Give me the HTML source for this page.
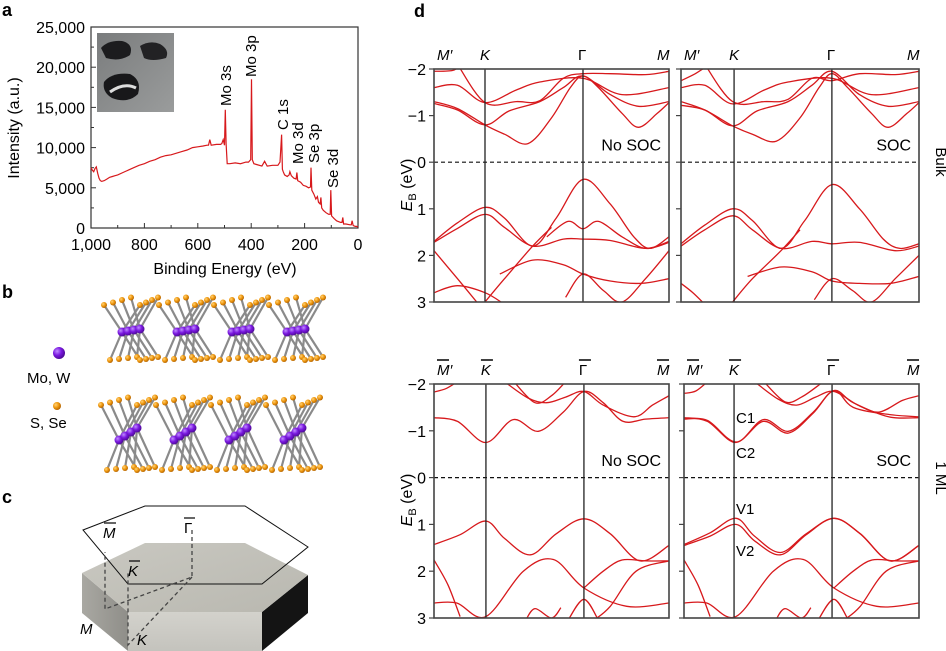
<!DOCTYPE html>
<html><head><meta charset="utf-8"><style>
html,body{margin:0;padding:0;background:#fff;width:946px;height:651px;overflow:hidden}
svg{display:block;font-family:"Liberation Sans",Arial,sans-serif}
</style></head><body>
<svg id="fig" width="946" height="651" viewBox="0 0 946 651" xmlns="http://www.w3.org/2000/svg">
<defs>
<linearGradient id="topg" x1="0" y1="0" x2="1" y2="1"><stop offset="0" stop-color="#c9c8c1"/><stop offset="1" stop-color="#b9b8b0"/></linearGradient>
<linearGradient id="frontg" x1="0" y1="0" x2="0" y2="1"><stop offset="0" stop-color="#d3d2cc"/><stop offset="1" stop-color="#c4c3bd"/></linearGradient>
<linearGradient id="leftg" x1="0" y1="0" x2="1" y2="0"><stop offset="0" stop-color="#a9a8a2"/><stop offset="1" stop-color="#8f8e89"/></linearGradient>
<linearGradient id="photo" x1="0" y1="0" x2="1" y2="1"><stop offset="0" stop-color="#7a7c7d"/><stop offset="1" stop-color="#9a9c9c"/></linearGradient>
<radialGradient id="mo" cx="0.35" cy="0.35" r="0.7"><stop offset="0" stop-color="#c08cff"/><stop offset="0.5" stop-color="#7a18e0"/><stop offset="1" stop-color="#4a0a90"/></radialGradient>
<radialGradient id="se" cx="0.35" cy="0.35" r="0.7"><stop offset="0" stop-color="#ffd27a"/><stop offset="0.5" stop-color="#f09a10"/><stop offset="1" stop-color="#b06000"/></radialGradient>
</defs>

<!-- Panel a -->
<g>
<text x="2" y="16" font-size="18" font-weight="bold">a</text>
<g id="xpsAxes"></g>
<rect x="97" y="33" width="77" height="79" fill="url(#photo)"/>
<path d="M101 48 Q108 40 122 41 Q134 44 130 55 Q120 62 106 58 Z" fill="#1c1c1e"/>
<path d="M140 46 Q150 40 160 44 Q170 50 166 58 Q152 62 144 58 Z" fill="#222224"/>
<path d="M104 82 Q112 72 130 74 Q142 80 138 94 Q128 104 112 98 Q102 92 104 82 Z" fill="#18181a"/>
<path d="M110 92 Q124 82 136 88" stroke="#ddd" stroke-width="3" fill="none"/>
<path id="xpsLine" fill="none" stroke="#d7191c" stroke-width="1.2"/>
<g font-size="15">
<text transform="translate(231,106) rotate(-90)">Mo 3s</text>
<text transform="translate(256,77) rotate(-90)">Mo 3p</text>
<text transform="translate(288,130) rotate(-90)">C 1s</text>
<text transform="translate(303,164) rotate(-90)">Mo 3d</text>
<text transform="translate(319,163) rotate(-90)">Se 3p</text>
<text transform="translate(338,188) rotate(-90)">Se 3d</text>
</g>
<text x="225" y="274" font-size="16" text-anchor="middle">Binding Energy (eV)</text>
<text transform="translate(19,128) rotate(-90)" font-size="16" text-anchor="middle">Intensity (a.u.)</text>
</g>

<!-- Panel b -->
<g>
<text x="2" y="298" font-size="18" font-weight="bold">b</text>
<g id="crystal"></g>
<circle cx="59" cy="353" r="6" fill="url(#mo)"/>
<text x="27" y="383" font-size="15">Mo, W</text>
<circle cx="57" cy="406" r="4" fill="url(#se)"/>
<text x="30" y="428" font-size="15">S, Se</text>
</g>

<!-- Panel c -->
<g>
<text x="2" y="503" font-size="18" font-weight="bold">c</text>
<polygon points="82,573 128,612 128,651 82,613" fill="url(#leftg)"/>
<polygon points="128,612 262,612 262,651 128,651" fill="url(#frontg)"/>
<polygon points="262,612 308,575 308,613 262,651" fill="#141414"/>
<polygon points="82,573 145,543 245,543 308,575 262,612 128,612" fill="url(#topg)"/>
<polygon points="83,530 145,506 245,506 308,547 262,584 128,584" fill="none" stroke="#111" stroke-width="1"/>
<g stroke="#444" stroke-width="1.3" stroke-dasharray="4,3" fill="none">
<path d="M192 530 L192 577 L105 609 L105 552"/>
<path d="M192 577 L128 645 L128 572"/>
</g>
<g font-size="15" font-style="italic">
<text x="103" y="538">M</text><line x1="104" y1="523" x2="116" y2="523" stroke="#000" stroke-width="1.2"/>
<text x="128" y="576">K</text><line x1="129" y1="561" x2="140" y2="561" stroke="#000" stroke-width="1.2"/>
<text x="184" y="533" font-style="normal">Γ</text><line x1="184" y1="518" x2="195" y2="518" stroke="#000" stroke-width="1.2"/>
<text x="80" y="634">M</text>
<text x="137" y="645">K</text>
</g>
</g>

<!-- Panel d -->
<g>
<text x="414" y="17" font-size="18" font-weight="bold">d</text>
<g id="bands"></g>
<text transform="translate(936,162) rotate(90)" font-size="15" text-anchor="middle">Bulk</text>
<text transform="translate(936,478) rotate(90)" font-size="15" text-anchor="middle">1 ML</text>
<text transform="translate(412,185) rotate(-90)" font-size="16" text-anchor="middle"><tspan font-style="italic">E</tspan><tspan font-size="11" dy="4">B</tspan><tspan dy="-4"> (eV)</tspan></text>
<text transform="translate(412,500) rotate(-90)" font-size="16" text-anchor="middle"><tspan font-style="italic">E</tspan><tspan font-size="11" dy="4">B</tspan><tspan dy="-4"> (eV)</tspan></text>
</g>
</svg>
<script>
// ---------- Panel a data ----------
const xpsEnergy = [1000,995,990,985,980,975,970,965,960,950,940,930,920,910,900,880,860,840,820,800,780,760,740,720,700,680,660,640,620,600,580,565,560,555,550,530,515,510,505,500,497,494,490,480,460,440,420,410,402,399,396,390,380,360,350,340,320,300,292,286,283,280,275,265,258,255,250,240,232,229,226,215,205,195,185,178,176,173,165,158,152,148,142,139,136,130,120,110,104,102,99,90,80,65,60,57,54,45,30,25,22,18,10,5,0];
const xpsIntensity = [7500,7200,7000,7400,7600,6800,6200,5900,5800,5900,6100,6300,6400,6500,6600,6900,7200,7500,7800,8000,8300,8500,8800,9000,9100,9300,9500,9700,10000,10100,10200,10300,10300,11000,10300,10400,10400,10500,11000,10300,14700,10500,8000,8000,8100,8000,8200,8200,8500,18500,8500,8000,7900,7700,8300,7700,7800,7800,8200,11600,7300,7000,6600,6400,6600,7000,6500,6200,6100,6900,5900,5700,5300,5200,5000,5100,7500,4700,4200,3600,3900,3200,3000,3800,2500,2200,1900,1700,1700,4700,1500,1200,900,700,700,1300,500,500,400,400,900,300,200,200,100];
const xpsXTicks = [1000,800,600,400,200,0];
const xpsXTickLabels = ["1,000","800","600","400","200","0"];
const xpsYTicks = [0,5000,10000,15000,20000,25000];
const xpsYTickLabels = ["0","5,000","10,000","15,000","20,000","25,000"];

// ---------- Panel d data (k: 0=M', 1=M; E in eV) ----------
const bulkNoSocBands = [
 [[0,-1.3],[0.1,-1.15],[0.217,-0.8],[0.3,-0.6],[0.4,-0.4],[0.5,-0.95],[0.58,-1.6],[0.634,-1.85],[0.7,-1.6],[0.8,-1.05],[0.87,-0.75],[0.95,-1.05],[1,-1.28]],
 [[0,-1.26],[0.1,-1.12],[0.217,-0.8],[0.32,-1.1],[0.45,-1.3],[0.55,-1.6],[0.634,-1.85],[0.75,-1.45],[0.87,-1.2],[1,-1.3]],
 [[0,-1.6],[0.1,-1.65],[0.217,-1.28],[0.35,-1.55],[0.45,-1.72],[0.634,-1.8],[0.8,-1.45],[1,-1.6]],
 [[0.1,-2.1],[0.217,-1.28],[0.35,-1.3],[0.45,-1.32],[0.55,-1.8],[0.634,-1.9],[0.75,-1.9],[0.9,-1.88],[1,-1.95]],
 [[0,-1.95],[0.08,-1.97],[0.12,-2.1]],
 [[0,1.7],[0.1,1.3],[0.217,0.97],[0.3,1.2],[0.42,1.8],[0.52,1.2],[0.634,0.37],[0.75,0.9],[0.85,1.6],[0.92,1.85],[1,1.6]],
 [[0,1.72],[0.1,1.42],[0.217,1.12],[0.3,1.4],[0.42,1.8],[0.55,1.65],[0.634,1.65],[0.75,1.68],[0.9,1.85],[1,1.7]],
 [[0.48,1.6],[0.57,1.27],[0.634,1.43],[0.7,1.27],[0.8,1.6],[0.9,1.85],[1,1.72]],
 [[0.217,3.0],[0.3,2.5],[0.42,1.8],[0.5,1.4]],
 [[0.28,2.4],[0.42,2.1],[0.55,2.2],[0.634,2.4],[0.75,2.55],[0.88,2.6],[1,2.5]],
 [[0,1.9],[0.1,2.5],[0.19,3.05]],
 [[0,2.8],[0.1,2.65],[0.217,2.8],[0.3,3.05]],
 [[0.56,2.9],[0.634,2.4],[0.72,2.75],[0.8,3.0],[0.9,2.5],[1,1.9]]
];
const bulkSocBands = [
 [[0,-1.3],[0.1,-1.12],[0.217,-0.78],[0.3,-0.6],[0.4,-0.45],[0.5,-0.95],[0.58,-1.6],[0.634,-1.9],[0.7,-1.6],[0.8,-1.05],[0.87,-0.75],[0.95,-1.05],[1,-1.28]],
 [[0,-1.22],[0.1,-1.12],[0.217,-0.78],[0.32,-1.1],[0.45,-1.3],[0.55,-1.65],[0.634,-1.95],[0.75,-1.45],[0.87,-1.2],[1,-1.3]],
 [[0,-1.6],[0.1,-1.65],[0.217,-1.25],[0.35,-1.55],[0.45,-1.72],[0.634,-1.8],[0.8,-1.45],[1,-1.6]],
 [[0.1,-2.1],[0.217,-1.3],[0.35,-1.3],[0.45,-1.35],[0.55,-1.8],[0.634,-1.75],[0.75,-1.9],[0.9,-1.88],[1,-1.95]],
 [[0,-1.75],[0.06,-1.9],[0.12,-2.1]],
 [[0,1.75],[0.1,1.35],[0.217,1.0],[0.3,1.25],[0.42,1.85],[0.52,1.25],[0.634,0.48],[0.75,1.0],[0.85,1.65],[0.92,1.85],[1,1.75]],
 [[0,1.8],[0.1,1.45],[0.217,1.15],[0.3,1.45],[0.42,1.85],[0.55,1.7],[0.634,1.75],[0.75,1.72],[0.9,1.9],[1,1.8]],
 [[0.217,3.0],[0.3,2.5],[0.42,1.9],[0.5,1.45]],
 [[0.28,2.45],[0.42,2.25],[0.55,2.35],[0.634,2.55],[0.75,2.6],[0.88,2.6],[1,2.45]],
 [[0,2.6],[0.05,2.8],[0.1,3.05]],
 [[0.56,2.95],[0.634,2.5],[0.72,2.75],[0.8,3.0],[0.9,2.5],[1,2.0]]
];
const mlNoSocBands = [
 [[0,-1.28],[0.1,-1.2],[0.221,-0.75],[0.337,-1.24],[0.444,-0.99],[0.55,-1.4],[0.638,-1.84],[0.72,-1.6],[0.805,-1.2],[0.9,-1.25],[1,-1.28]],
 [[0.3,-2.05],[0.4,-1.7],[0.479,-1.6],[0.56,-1.72],[0.638,-1.84],[0.72,-1.55],[0.85,-1.3],[0.93,-1.55],[1,-1.75]],
 [[0.34,-2.05],[0.43,-1.6],[0.5,-1.75],[0.56,-2.05]],
 [[0,-1.83],[0.05,-1.9],[0.1,-2.05]],
 [[0,1.43],[0.111,1.22],[0.221,0.93],[0.3,1.3],[0.41,1.65],[0.52,1.2],[0.638,0.88],[0.75,1.2],[0.876,1.78],[1,1.45]],
 [[0,1.76],[0.06,2.3],[0.111,2.97]],
 [[0,2.68],[0.097,2.68],[0.221,2.97],[0.38,2.0],[0.508,1.75],[0.638,2.36],[0.82,2.75],[1,2.68]],
 [[0.638,2.36],[0.72,2.0],[0.8,1.76],[0.9,1.78],[1,1.78]],
 [[0.68,3.05],[0.75,2.75],[0.86,2.0],[1,1.78]],
 [[0.57,3.05],[0.638,2.6],[0.7,3.05]],
 [[0.39,3.05],[0.43,2.8],[0.5,3.0],[0.54,2.78]]
];
const mlSocBands = [
 [[0,-1.28],[0.1,-1.2],[0.221,-0.75],[0.337,-1.24],[0.444,-0.99],[0.55,-1.4],[0.638,-1.86],[0.72,-1.6],[0.87,-1.3],[1,-1.28]],
 [[0,-1.25],[0.1,-1.22],[0.221,-0.76],[0.337,-1.2],[0.444,-0.95],[0.55,-1.38],[0.638,-1.86],[0.72,-1.5],[0.87,-1.35],[1,-1.3]],
 [[0.3,-2.05],[0.4,-1.68],[0.479,-1.55],[0.56,-1.72],[0.638,-1.84],[0.74,-1.55],[0.83,-1.4],[0.93,-1.65],[1,-1.75]],
 [[0.34,-2.05],[0.43,-1.62],[0.5,-1.72],[0.58,-2.0]],
 [[0,-1.8],[0.05,-1.85],[0.1,-2.05]],
 [[0,1.43],[0.111,1.18],[0.221,0.87],[0.3,1.25],[0.41,1.6],[0.52,1.2],[0.638,0.87],[0.75,1.2],[0.876,1.78],[1,1.45]],
 [[0,1.45],[0.111,1.25],[0.221,1.0],[0.3,1.35],[0.41,1.65],[0.52,1.22],[0.638,0.87],[0.75,1.2],[0.876,1.78],[1,1.45]],
 [[0,1.76],[0.06,2.3],[0.111,2.97]],
 [[0,2.68],[0.097,2.68],[0.221,2.97],[0.38,2.0],[0.508,1.75],[0.638,2.36],[0.82,2.75],[1,2.68]],
 [[0.638,2.36],[0.72,2.0],[0.8,1.76],[0.9,1.78],[1,1.78]],
 [[0.68,3.05],[0.75,2.75],[0.86,2.0],[1,1.78]],
 [[0.57,3.05],[0.638,2.6],[0.7,3.05]],
 [[0.39,3.05],[0.43,2.8],[0.5,3.0],[0.54,2.78]]
];
const energyTicks = [-2,-1,0,1,2,3];
const energyTickLabels = ["\u22122","\u22121","0","1","2","3"];

const NS='http://www.w3.org/2000/svg';
function mk(tag, attrs, parent){const e=document.createElementNS(NS,tag);for(const k in attrs)e.setAttribute(k,attrs[k]);parent.appendChild(e);return e;}

// ---- Panel a drawing ----
const ax={x0:91,x1:358,y0:228,y1:27};
const xS=v=>ax.x0+(1000-v)/1000*(ax.x1-ax.x0);
const yS=v=>ax.y0-v/25000*(ax.y0-ax.y1);
const xa=document.getElementById('xpsAxes');
const frame=mk('rect',{x:ax.x0,y:ax.y1,width:ax.x1-ax.x0,height:ax.y0-ax.y1,fill:'none',stroke:'#333','stroke-width':1.2},xa);


for(let v=0;v<=1000;v+=100){const x=xS(v);mk('line',{x1:x,x2:x,y1:ax.y0,y2:ax.y0-(v%200===0?5:3),stroke:'#333'},xa);}
for(let v=0;v<=25000;v+=2500){const y=yS(v);mk('line',{x1:ax.x0,x2:ax.x0+(v%5000===0?5:3),y1:y,y2:y,stroke:'#333'},xa);}
xpsXTicks.forEach((v,i)=>{const t=mk('text',{x:xS(v),y:250,'font-size':16,'text-anchor':'middle'},xa);t.textContent=xpsXTickLabels[i];

});
xpsYTicks.forEach((v,i)=>{const t=mk('text',{x:85,y:yS(v)+6,'font-size':16,'text-anchor':'end'},xa);t.textContent=xpsYTickLabels[i];

});
document.getElementById('xpsLine').setAttribute('d',xpsEnergy.map((e,i)=>(i?'L':'M')+xS(e).toFixed(1)+' '+yS(xpsIntensity[i]).toFixed(1)).join(' '));

// ---- Panel b crystal (decorative) ----
const cr=document.getElementById('crystal');
function layer(yTop,yMid,yBot,shift,tilt){
  const bonds=mk('g',{stroke:'#8a8a8a','stroke-width':2.2},cr);
  const atoms=[];
  for(let u=0;u<4;u++){
    const bx=122+u*55+shift;
    for(let j=0;j<4;j++){
      const mx=bx+j*6, my=yMid-j*tilt;
      const tx=mx-18+j*3, ty=yTop-j*2.5, bx2=mx-12+j*3, by=yBot-j*1;
      const tx2=mx+18, bx3=mx+18;
      mk('line',{x1:mx,y1:my,x2:tx,y2:ty},bonds);
      mk('line',{x1:mx,y1:my,x2:tx2,y2:ty},bonds);
      mk('line',{x1:mx,y1:my,x2:bx2,y2:by},bonds);
      mk('line',{x1:mx,y1:my,x2:bx3,y2:by},bonds);
      atoms.push(['se',tx,ty],['se',tx2,ty],['se',bx2,by],['se',bx3,by],['mo',mx,my]);
    }
  }
  atoms.sort((a,b)=>a[0]==='mo'?1:-1).forEach(a=>{
    const c=mk('circle',{cx:a[1],cy:a[2],r:a[0]==='mo'?4.5:3,fill:a[0]==='mo'?'url(#mo)':'url(#se)'},cr);
    
    
  });
}
layer(305,332,360,0,1);
layer(405,440,470,-3,4);

// ---- Panel d drawing ----
const panels=[
 {x0:434,x1:669,y0:69,y1:302,bands:bulkNoSocBands,K:0.217,G:0.634,note:'No SOC',ticks:true,bar:false,name:'bulk-no-soc'},
 {x0:681,x1:919,y0:69,y1:302,bands:bulkSocBands,K:0.223,G:0.634,note:'SOC',ticks:false,bar:false,name:'bulk-soc'},
 {x0:434,x1:669,y0:384,y1:618,bands:mlNoSocBands,K:0.221,G:0.638,note:'No SOC',ticks:true,bar:true,name:'ml-no-soc'},
 {x0:684,x1:919,y0:384,y1:618,bands:mlSocBands,K:0.213,G:0.63,note:'SOC',ticks:false,bar:true,name:'ml-soc'}
];
function spline(pts){
  let d='M'+pts[0][0].toFixed(1)+' '+pts[0][1].toFixed(1);
  for(let i=0;i<pts.length-1;i++){
    const p0=pts[Math.max(0,i-1)],p1=pts[i],p2=pts[i+1],p3=pts[Math.min(pts.length-1,i+2)];
    const c1=[p1[0]+(p2[0]-p0[0])/6,p1[1]+(p2[1]-p0[1])/6],c2=[p2[0]-(p3[0]-p1[0])/6,p2[1]-(p3[1]-p1[1])/6];
    d+=` C${c1[0].toFixed(1)} ${c1[1].toFixed(1)} ${c2[0].toFixed(1)} ${c2[1].toFixed(1)} ${p2[0].toFixed(1)} ${p2[1].toFixed(1)}`;
  }
  return d;
}
const bg=document.getElementById('bands');
panels.forEach((p,pi)=>{
  const g=mk('g',{},bg);
  
  
  const kx=k=>p.x0+k*(p.x1-p.x0);
  const ey=e=>p.y0+(e+2)/5*(p.y1-p.y0);
  const cid='clip'+pi;
  const cp=mk('clipPath',{id:cid},g);mk('rect',{x:p.x0,y:p.y0,width:p.x1-p.x0,height:p.y1-p.y0},cp);
  const bandsG=mk('g',{'clip-path':`url(#${cid})`,fill:'none',stroke:'#d7191c','stroke-width':1.3},g);
  p.bands.forEach(b=>{
    const path=mk('path',{d:spline(b.map(q=>[kx(q[0]),ey(q[1])]))},bandsG);
    
    
  });
  const ef=mk('line',{x1:p.x0,x2:p.x1,y1:ey(0),y2:ey(0),stroke:'#111','stroke-width':1.2,'stroke-dasharray':'4,3'},g);
  
  
  [p.K,p.G].forEach(k=>{const l=mk('line',{x1:kx(k),x2:kx(k),y1:p.y0,y2:p.y1,stroke:'#222','stroke-width':1.3},g);
    
    });
  const fr=mk('rect',{x:p.x0,y:p.y0,width:p.x1-p.x0,height:p.y1-p.y0,fill:'none',stroke:'#444','stroke-width':1.6},g);
  
  
  energyTicks.forEach((e,i)=>{
    mk('line',{x1:p.x0-5,x2:p.x0,y1:ey(e),y2:ey(e),stroke:'#444','stroke-width':1.2},g);
    if(p.ticks){const t=mk('text',{x:p.x0-8,y:ey(e)+6,'font-size':16,'text-anchor':'end'},g);t.textContent=energyTickLabels[i];
      
      }
  });
  const labs=[['M\u2032',0,'italic'],['K',p.K,'italic'],['\u0393',p.G,'normal'],['M',1,'italic']];
  labs.forEach(([s,k,st],i)=>{
    const x=i===0?p.x0+3:(i===3?p.x1-12:kx(k)-5);
    const t=mk('text',{x:x,y:p.y0-9,'font-size':15,'font-style':st},g);t.textContent=s;
    
    
    if(p.bar)mk('line',{x1:x,x2:x+12,y1:p.y0-24,y2:p.y0-24,stroke:'#000','stroke-width':1.5},g);
  });
  const n=mk('text',{x:p.x1-8,y:ey(-0.25),'font-size':16,'text-anchor':'end'},g);n.textContent=p.note;
  
  
  if(pi===3){
    [['C1',-1.3],['C2',-0.55],['V1',0.65],['V2',1.55]].forEach(([s,e])=>{
      const t=mk('text',{x:kx(p.K)+2,y:ey(e)+6,'font-size':15},g);t.textContent=s;
      
      
    });
  }
});
</script>
</body></html>
